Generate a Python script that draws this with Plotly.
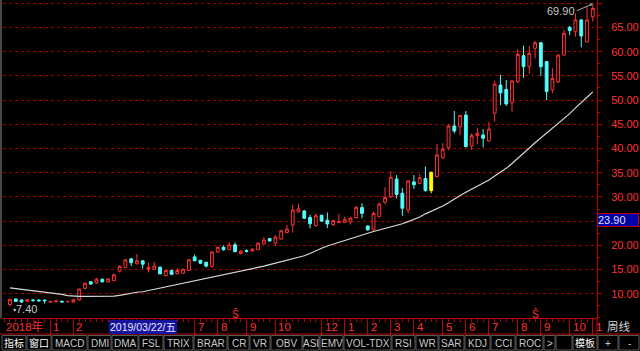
import plotly.graph_objects as go

# ---------------- data (weekly candles) ----------------
week_idx = list(range(102))
opens = [7.75, 8.90, 8.70, 8.45, 8.70, 8.65, 8.70, 8.25, 8.35, 8.45,
         8.35, 8.25, 8.70, 11.10, 12.45, 12.20, 13.00, 12.40, 12.70, 14.65,
         15.40, 17.20, 16.20, 16.80, 15.00, 15.00, 15.45, 13.75, 14.80, 14.10,
         14.25, 14.80, 17.60, 16.90, 16.50, 15.65, 18.60, 19.60, 19.10, 20.10,
         18.30, 18.90, 18.80, 19.10, 20.30, 21.40, 20.45, 21.30, 22.65, 24.20,
         26.90, 27.10, 25.75, 24.10, 26.20, 25.20, 24.30, 24.70, 24.70, 24.85,
         25.70, 27.80, 24.00, 23.20, 25.90, 28.90, 30.05, 33.70, 30.75, 27.30,
         33.10, 32.80, 33.80, 35.10, 34.20, 38.10, 40.15, 44.65, 44.50, 46.90,
         40.50, 42.65, 42.80, 41.55, 47.30, 53.10, 52.20, 49.45, 53.80, 59.20,
         56.90, 60.70, 61.85, 57.95, 52.10, 53.80, 59.30, 65.05, 64.15, 66.55,
         62.05, 67.20]
highs = [8.95, 9.00, 8.80, 8.80, 8.90, 8.90, 8.75, 8.45, 8.60, 8.50,
         8.45, 8.85, 11.05, 12.30, 12.60, 13.30, 13.10, 13.20, 14.10, 15.90,
         17.10, 17.40, 18.20, 16.90, 16.40, 16.60, 15.70, 14.90, 14.90, 15.30,
         15.20, 17.20, 18.10, 17.00, 16.60, 18.80, 19.80, 20.00, 20.70, 20.60,
         19.00, 19.20, 19.40, 20.60, 21.70, 21.50, 22.10, 23.20, 24.20, 28.35,
         28.60, 27.30, 26.30, 26.60, 26.30, 26.80, 25.30, 26.50, 25.90, 25.90,
         28.10, 28.70, 24.10, 26.90, 28.90, 32.00, 35.35, 34.50, 31.80, 33.50,
         34.50, 34.70, 36.30, 35.20, 40.90, 41.10, 45.00, 47.75, 47.00, 47.75,
         43.10, 44.20, 44.00, 45.55, 54.00, 55.20, 54.15, 54.20, 60.50, 61.25,
         61.20, 62.20, 62.00, 58.10, 56.60, 59.50, 64.60, 65.30, 67.90, 66.80,
         69.30, 69.90]
lows = [7.40, 8.30, 8.10, 8.40, 8.30, 8.30, 7.95, 8.15, 8.30, 8.20,
        8.25, 8.20, 8.60, 10.90, 11.80, 12.10, 12.30, 12.35, 12.60, 14.40,
        15.30, 15.70, 16.00, 15.20, 14.40, 14.90, 14.00, 13.60, 13.90, 14.00,
        14.10, 14.70, 16.70, 16.10, 15.40, 15.30, 18.50, 18.90, 19.00, 18.50,
        18.10, 18.50, 18.70, 19.00, 20.20, 20.80, 19.90, 21.20, 22.50, 22.65,
        26.80, 25.40, 23.50, 23.80, 24.90, 23.55, 24.00, 24.60, 24.60, 24.30,
        25.50, 25.60, 23.00, 23.00, 25.80, 28.50, 29.70, 29.70, 26.10, 26.60,
        31.60, 32.60, 31.10, 30.75, 34.00, 37.90, 39.70, 43.10, 42.80, 40.20,
        39.70, 40.90, 40.25, 41.40, 45.55, 49.00, 48.80, 47.60, 53.50, 54.60,
        55.40, 58.60, 55.00, 50.00, 51.40, 53.50, 59.20, 63.45, 63.10, 60.90,
        61.90, 66.20]
closes = [8.85, 8.40, 8.30, 8.75, 8.60, 8.55, 8.55, 8.40, 8.50, 8.30,
          8.37, 8.75, 10.95, 12.15, 12.00, 13.00, 12.45, 13.05, 13.90, 15.65,
          17.00, 16.40, 16.80, 16.10, 15.45, 15.70, 14.10, 14.80, 14.00, 14.80,
          15.05, 17.00, 16.80, 16.30, 15.70, 18.60, 19.60, 19.10, 20.10, 18.70,
          18.80, 18.75, 19.20, 20.45, 21.10, 20.90, 21.70, 23.00, 23.35, 27.30,
          27.50, 25.60, 24.45, 26.10, 25.00, 24.40, 25.10, 24.85, 25.30, 25.60,
          27.85, 26.60, 23.20, 26.60, 28.50, 29.85, 34.05, 30.50, 27.65, 33.30,
          32.50, 33.95, 31.30, 31.30, 38.65, 39.85, 44.65, 43.60, 46.80, 40.40,
          42.65, 43.15, 42.10, 44.00, 53.30, 51.50, 49.20, 53.95, 59.45, 56.90,
          59.65, 61.85, 56.90, 51.75, 54.50, 59.30, 63.80, 64.35, 66.55, 63.25,
          66.55, 68.95]
ma_line = [11.20, 11.05, 10.95, 10.80, 10.65, 10.50, 10.40, 10.30, 10.10, 9.85,
           9.60, 9.45, 9.45, 9.45, 9.45, 9.45, 9.45, 9.45, 9.50, 9.65,
           9.90, 10.10, 10.30, 10.40, 10.65, 10.85, 11.10, 11.35, 11.60, 11.85,
           12.10, 12.30, 12.55, 12.80, 13.05, 13.30, 13.55, 13.85, 14.10, 14.35,
           14.60, 14.90, 15.15, 15.45, 15.70, 16.00, 16.30, 16.60, 16.85, 17.20,
           17.50, 17.85, 18.30, 18.90, 19.40, 19.85, 20.25, 20.65, 21.00, 21.35,
           21.75, 22.15, 22.50, 22.85, 23.15, 23.55, 23.90, 24.15, 24.45, 24.90,
           25.35, 25.85, 26.50, 27.00, 27.45, 28.10, 28.80, 29.60, 30.30, 30.95,
           31.60, 32.20, 32.80, 33.50, 34.30, 35.10, 35.90, 36.90, 37.90, 39.00,
           40.10, 41.20, 42.20, 43.10, 44.10, 45.00, 46.00, 47.20, 48.40, 49.60,
           50.60, 51.70]
highlight_idx = [73]
dividend_idx = [39, 91]
cursor_idx = 17
cursor_label = "2019/03/22/五"
cursor_price = "23.90"
month_idx = [7, 11, 32, 36, 41, 46, 54, 58, 62, 66, 70, 75, 79, 83, 88, 92, 97, 101]
month_lbl = ["1", "2", "7", "8", "9", "10", "12", "1", "2", "3", "4", "5",
             "6", "7", "8", "9", "10", "1"]
year_lbl = "2018年"
period_lbl = "周线"
price_ticks = [10, 15, 20, 25, 30, 35, 40, 45, 50, 55, 60, 65, 70]
hidden_price_ticks = [25]   # covered by the cursor price box in the reference
buttons = ["指标", "窗口", "MACD", "DMI", "DMA", "FSL", "TRIX", "BRAR", "CR", "VR", "OBV",
           "ASI", "EMV", "VOL-TDX", "RSI", "WR", "SAR", "KDJ", "CCI", "ROC", ">", "",
           "模板", "+", "-"]

# ---------------- layout geometry (pixels) ----------------
W, H = 640, 351
PL, PR, PT, PB = 3, 597, 0, 318
btn_edges = [2, 27, 52, 88, 112, 139, 164, 194, 228, 250, 271, 303, 320, 344, 392,
             416, 439, 465, 491, 516, 544, 556, 573, 598, 619, 640]

def px(x):
    return (x - PL) / (PR - PL)

def py(y):
    return (PB - y) / (PB - PT)

RED = "#ff3232"
CYAN = "#54fcfc"
FONT = "Liberation Sans, Arial, Noto Sans CJK SC"

normal = [i not in highlight_idx for i in week_idx]
def pick(arr, keep):
    return [v if k else None for v, k in zip(arr, keep)]

fig = go.Figure()
fig.add_trace(go.Candlestick(
    x=week_idx,
    open=pick(opens, normal), high=pick(highs, normal),
    low=pick(lows, normal), close=pick(closes, normal),
    increasing=dict(line=dict(color=RED, width=1), fillcolor="black"),
    decreasing=dict(line=dict(color=CYAN, width=1), fillcolor=CYAN),
    whiskerwidth=0, showlegend=False, hoverinfo="skip"))
hl = [i in highlight_idx for i in week_idx]
fig.add_trace(go.Candlestick(
    x=week_idx,
    open=pick(opens, hl), high=pick(highs, hl),
    low=pick(lows, hl), close=pick(closes, hl),
    increasing=dict(line=dict(color="#ffff00", width=1), fillcolor="#ffff00"),
    decreasing=dict(line=dict(color="#ffff00", width=1), fillcolor="#ffff00"),
    whiskerwidth=0, showlegend=False, hoverinfo="skip"))
fig.add_trace(go.Scatter(x=week_idx, y=ma_line, mode="lines",
                         line=dict(color="#d8d8d8", width=1.2),
                         showlegend=False, hoverinfo="skip"))

x0 = -1.21
x1 = 101.73
fig.update_layout(
    width=W, height=H,
    margin=dict(l=PL, r=W - PR, t=PT, b=H - PB, pad=0),
    paper_bgcolor="black", plot_bgcolor="black",
    font=dict(family=FONT, size=12, color=RED),
    xaxis=dict(range=[x0, x1], rangeslider=dict(visible=False),
               showgrid=False, zeroline=False,
               showline=True, linecolor="#c00000", linewidth=1,
               tickmode="array", tickvals=month_idx, ticktext=month_lbl,
               showticklabels=False, ticks="outside", ticklen=16,
               tickcolor="#c00000", tickwidth=1,
               minor=dict(ticks="outside", ticklen=3, tickcolor="#c00000",
                          tick0=0, dtick=1, showgrid=False)),
    yaxis=dict(side="right", range=[4.98, 70.68],
               tickmode="array", tickvals=price_ticks,
               ticktext=["" if v in hidden_price_ticks else "%.2f" % v for v in price_ticks],
               tickfont=dict(color=RED, size=11, family=FONT),
               showgrid=True, gridcolor="#a00000", griddash="dot", gridwidth=1,
               zeroline=False, showline=True, linecolor="#c00000", linewidth=1,
               ticks="outside", ticklen=4, tickcolor="#c00000",
               ticklabelstandoff=7,
               minor=dict(ticks="outside", ticklen=2, tickcolor="#c00000",
                          tick0=0, dtick=2.5, showgrid=False)),
)

shapes = []
# left grey border
shapes.append(dict(type="line", xref="paper", yref="paper", x0=px(1), x1=px(1),
                   y0=py(0), y1=py(PB), line=dict(color="#909090", width=1)))
# date strip bottom line and right separator
shapes.append(dict(type="line", xref="paper", yref="paper", x0=px(0), x1=px(640),
                   y0=py(334), y1=py(334), line=dict(color="#c00000", width=1)))
shapes.append(dict(type="line", xref="paper", yref="paper", x0=px(PR), x1=px(PR),
                   y0=py(PB), y1=py(334), line=dict(color="#c00000", width=1)))
# buttons
annotations = []
for i, lab in enumerate(buttons):
    a, b = btn_edges[i], btn_edges[i + 1] - 1
    shapes.append(dict(type="rect", xref="paper", yref="paper",
                       x0=px(a), x1=px(b), y0=py(350), y1=py(335.5),
                       line=dict(color="#5a5a5a", width=1), fillcolor="black"))
    if lab:
        annotations.append(dict(xref="paper", yref="paper", x=px((a + b) / 2), y=py(343),
                                text=lab, showarrow=False, xanchor="center", yanchor="middle",
                                font=dict(size=10, family=FONT,
                                          color="#ffffff" if lab in ("指标", "窗口", "模板") else "#c8c8c8")))

# month labels
for idx, lab in zip(month_idx, month_lbl):
    annotations.append(dict(xref="x", yref="paper", x=idx, y=py(326.5), text=lab,
                            showarrow=False, xanchor="left", yanchor="middle", xshift=1,
                            font=dict(size=11.5, family=FONT, color=RED)))
annotations.append(dict(xref="paper", yref="paper", x=px(4), y=py(326.5), text=year_lbl,
                        showarrow=False, xanchor="left", yanchor="middle",
                        font=dict(size=11.5, family=FONT, color=RED)))
annotations.append(dict(xref="paper", yref="paper", x=px(619), y=py(326.5), text=period_lbl,
                        showarrow=False, xanchor="center", yanchor="middle",
                        font=dict(size=11.5, family=FONT, color="#d0d0d0")))
# cursor date box
annotations.append(dict(xref="x", yref="paper", x=cursor_idx, y=py(326.5), text=cursor_label,
                        showarrow=False, xanchor="left", yanchor="middle", xshift=1,
                        bgcolor="#1414a0", borderpad=1, borderwidth=0,
                        font=dict(size=10.5, family=FONT, color="#e8e8ff")))
# cursor price box on the axis
annotations.append(dict(xref="paper", yref="paper", x=px(PR), y=py(220), text=cursor_price,
                        showarrow=False, xanchor="left", yanchor="middle",
                        width=40, height=12, align="left",
                        bgcolor="#0000a8", bordercolor="#c00000", borderwidth=1, borderpad=0,
                        font=dict(size=11, family=FONT, color="#e0e0ff")))
# dividend marks
for idx in dividend_idx:
    annotations.append(dict(xref="x", yref="paper", x=idx, y=py(314), text="Ŝ",
                            showarrow=False, xanchor="center", yanchor="middle",
                            font=dict(size=10, family=FONT, color=RED)))
# max / min markers
imax = max(week_idx, key=lambda i: highs[i])
imin = min(week_idx, key=lambda i: lows[i])
annotations.append(dict(xref="x", yref="y", x=imax, y=highs[imax], text="%.2f" % highs[imax],
                        showarrow=True, arrowhead=2, arrowsize=0.6, arrowwidth=1,
                        arrowcolor="#b0b0b0", ax=-16, ay=7, xanchor="right", yanchor="middle",
                        font=dict(size=11, family=FONT, color="#c8c8c8")))
annotations.append(dict(xref="x", yref="y", x=imin, y=lows[imin], text="%.2f" % lows[imin],
                        showarrow=True, arrowhead=2, arrowsize=0.6, arrowwidth=1,
                        arrowcolor="#d0d0d0", ax=4, ay=3, xanchor="left", yanchor="middle",
                        standoff=4,
                        font=dict(size=11, family=FONT, color="#c8c8c8")))

fig.update_layout(shapes=shapes, annotations=annotations)
fig.write_html("out.html")
